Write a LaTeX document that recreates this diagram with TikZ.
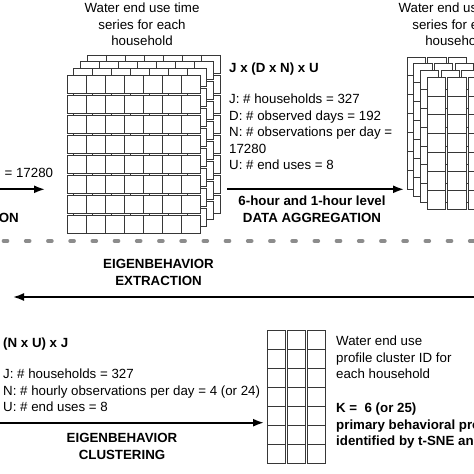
\documentclass[tikz,border=0pt]{standalone}
\usepackage{fontspec}
\setmainfont{Liberation Sans}
\usepackage{xcolor}
\definecolor{gridline}{RGB}{55,55,55}
\definecolor{sepgray}{RGB}{140,140,140}
\usetikzlibrary{arrows.meta}

\begin{document}
\begin{tikzpicture}[x=1pt, y=-1pt,
  txt/.style={inner sep=0pt, font=\fontsize{13.3}{16.4}\selectfont},
  btxt/.style={inner sep=0pt, font=\fontsize{13.3}{16.4}\selectfont\bfseries},
  cell/.style={draw=gridline, fill=white, line width=0.8pt},
  cellsep/.style={draw=gridline, line width=0.8pt},
  flow/.style={line width=1.8pt, -{Latex[length=11pt,width=8pt]}}]
\useasboundingbox (0,0) rectangle (474,474);
\clip (0,0) rectangle (474,474);

% raw time series, one layer per household
\foreach \k in {3,2,1,0}{
  \foreach \r in {0,...,7}{
    \draw[cell] ({67+6.7*\k},{75+20*\r-6.7*\k}) rectangle ++(133,18);
    \foreach \c in {1,...,6}
      \draw[cellsep] ({67+6.7*\k+19*\c},{75+20*\r-6.7*\k}) -- ++(0,18);
  }
}

% aggregated time series
\foreach \k in {3,2,1,0}{
  \foreach \c in {0,1,2}{
    \draw[cell] ({427+20.7*\c-6.7*\k},{77-6.7*\k}) rectangle ++(18.3,132.3);
    \foreach \r in {1,...,6}
      \draw[cellsep] ({427+20.7*\c-6.7*\k},{77+18.9*\r-6.7*\k}) -- ++(18.3,0);
  }
}

% cluster ids
\foreach \c in {0,1,2}{
  \draw[cell] ({267+20*\c},330) rectangle ++(18.3,133.5);
  \foreach \r in {1,...,6}
    \draw[cellsep] ({267+20*\c},{330+19*\r}) -- ++(18.3,0);
}

% upper row (multi-line nodes sit on their last line)
\node[txt, align=center, anchor=base] (lefttitle) at (142,45.5)
  {Water end use time\\series for each\\household};
\node[txt, align=center, anchor=base] (righttitle) at (456,45.5)
  {Water end use time\\series for each\\household};
\node[btxt, anchor=base west] (dims) at (229,72.7) {J x (D x N) x U};
\node[txt, align=left, anchor=base west] (dimlist) at (229,169.5)
  {J: \# households = 327\\D: \# observed days = 192\\N: \# observations per day =\\17280\\U: \# end uses = 8};
\node[txt, anchor=base east] (prevN) at (53.3,177) {= 17280};
\node[btxt, anchor=base east] (prevlabel) at (19,222) {ON};
\node[btxt, align=center, anchor=base] (agglabel) at (312,222)
  {6-hour and 1-hour level\\DATA AGGREGATION};

\coordinate (inL) at (0,189.3);
\coordinate (inR) at (45,189.3);
\coordinate (aggL) at (227,189.3);
\coordinate (aggR) at (404,189.3);
\draw[flow] (inL) -- (inR);
\draw[flow] (aggL) -- (aggR);

% separator
\coordinate (sepL) at (3.5,241);
\coordinate (sepR) at (474,241);
\draw[sepgray, line width=3.6pt, line cap=round, dash pattern=on 4pt off 18.2pt] (sepL) -- (sepR);

% lower row
\node[btxt, align=center, anchor=base] (extlabel) at (158.5,285.3)
  {EIGENBEHAVIOR\\EXTRACTION};
\coordinate (extR) at (474,297);
\coordinate (extL) at (13,297);
\draw[flow] (extR) -- (extL);

\node[btxt, anchor=base west] (dims2) at (3,347) {(N x U) x J};
\node[txt, align=left, anchor=base west] (dimlist2) at (3,411.7)
  {J: \# households = 327\\N: \# hourly observations per day = 4 (or 24)\\U: \# end uses = 8};
\coordinate (cluL) at (0,422.7);
\coordinate (cluR) at (264,422.7);
\draw[flow] (cluL) -- (cluR);
\node[btxt, align=center, anchor=base] (clulabel) at (122,459.3)
  {EIGENBEHAVIOR\\CLUSTERING};

\node[txt, align=left, anchor=base west] (clusterid) at (336,378.7)
  {Water end use\\profile cluster ID for\\each household};
\node[btxt, align=left, anchor=base west] (kvalue) at (336,445.5)
  {K = \ 6 (or 25)\\primary behavioral profiles\\identified by t-SNE and};
\end{tikzpicture}
\end{document}
